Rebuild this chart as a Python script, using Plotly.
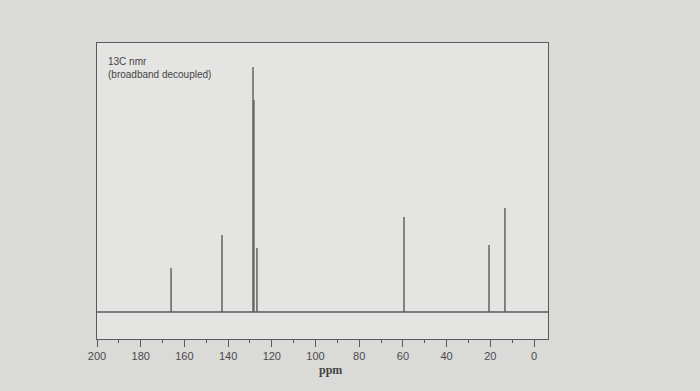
import plotly.graph_objects as go

# Chemical shifts (ppm) and relative peak heights (arbitrary units)
shifts = [166.1, 142.8, 128.6, 128.2, 126.8, 59.5, 20.6, 13.3]
heights = [44, 77, 245, 212, 64, 95, 67, 104]

tick_vals = [200, 180, 160, 140, 120, 100, 80, 60, 40, 20, 0]
tick_text = [str(v) for v in tick_vals]

x_range = [200, -6.4]
y_range = [-27, 269]

px, py = [], []
for s, h in zip(shifts, heights):
    px += [s, s, None]
    py += [0, h, None]

line_col = "#5a5a5a"

fig = go.Figure()
fig.add_trace(go.Scatter(x=[x_range[0], x_range[1]], y=[0, 0], mode="lines",
                         line=dict(color=line_col, width=1.3), hoverinfo="skip"))
fig.add_trace(go.Scatter(x=px, y=py, mode="lines",
                         line=dict(color=line_col, width=1.4), hoverinfo="skip"))

fig.update_layout(
    width=700, height=391,
    margin=dict(l=97, r=152, t=43, b=52),
    paper_bgcolor="#dadad8",
    plot_bgcolor="#e4e4e2",
    showlegend=False,
    xaxis=dict(range=x_range, tickvals=tick_vals, ticktext=tick_text,
               ticks="outside", ticklen=7, tickwidth=1.2, tickcolor=line_col,
               minor=dict(dtick=10, tick0=0, ticks="outside", ticklen=3, tickcolor=line_col),
               showline=True, linecolor=line_col, linewidth=1.2, mirror=True,
               showgrid=False, zeroline=False,
               tickfont=dict(family="Liberation Sans, Arial", size=11, color="#4a4a4a")),
    yaxis=dict(range=y_range, showticklabels=False, ticks="",
               showline=True, linecolor=line_col, linewidth=1.2, mirror=True,
               showgrid=False, zeroline=False),
    annotations=[
        dict(text="13C nmr<br>(broadband decoupled)", x=0.02, y=0.963, xref="paper", yref="paper",
             xanchor="left", yanchor="top", align="left", showarrow=False,
             font=dict(family="Liberation Sans, Arial", size=10, color="#444444")),
        dict(text="<b>ppm</b>", x=93, y=-0.075, xref="x", yref="paper",
             xanchor="center", yanchor="top", showarrow=False,
             font=dict(family="Liberation Serif, Times New Roman", size=12, color="#444444")),
    ],
)

fig.write_html("out.html")
